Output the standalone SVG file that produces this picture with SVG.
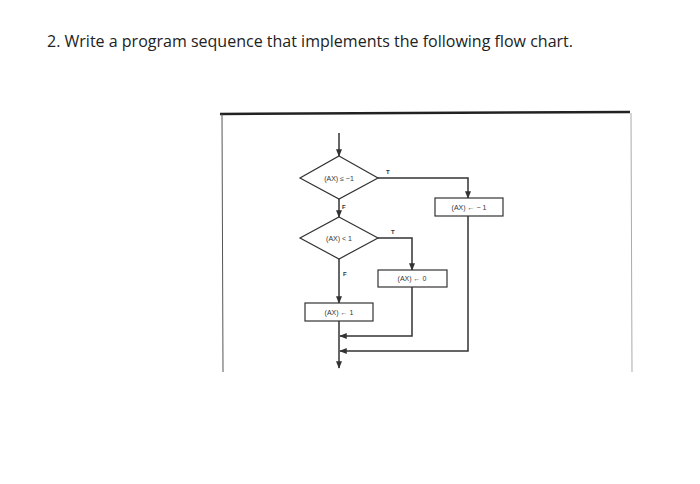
<svg xmlns="http://www.w3.org/2000/svg" width="700" height="484" viewBox="0 0 700 484">
<style>
.s{fill:none;stroke:#333;stroke-width:1.5}
.b{fill:#fff;stroke:#333;stroke-width:1.2}
.t{font-family:"Liberation Sans",Arial,sans-serif;font-size:7px;fill:#333}
.l{font-family:"Liberation Sans",Arial,sans-serif;font-size:6px;font-weight:bold;fill:#333}
</style>
<defs><marker id="a" viewBox="0 0 10 10" refX="9" refY="5" markerWidth="5" markerHeight="5" orient="auto"><path d="M0,1 L10,5 L0,9 Z" fill="#333"/></marker></defs>
<rect width="700" height="484" fill="#fff"/>
<text x="47" y="47" font-family="Open Sans,Liberation Sans,sans-serif" font-size="16" fill="#222" textLength="526" lengthAdjust="spacingAndGlyphs">2. Write a program sequence that implements the following flow chart.</text>
<g id="frame">
<line x1="220" y1="114" x2="630" y2="112" stroke="#222" stroke-width="2.5"/>
<line x1="222" y1="114" x2="223" y2="372" stroke="#555" stroke-width="1"/>
<line x1="631" y1="113" x2="632" y2="372" stroke="#aaa" stroke-width="1"/>
</g>
<g id="connectors">
<line class="s" x1="339" y1="133" x2="339" y2="156" marker-end="url(#a)"/>
<polyline class="s" points="378,178 468,178 468,198" marker-end="url(#a)"/>
<line class="s" x1="339" y1="199" x2="339" y2="217" marker-end="url(#a)"/>
<polyline class="s" points="378,238 412,238 412,270" marker-end="url(#a)"/>
<line class="s" x1="339" y1="259" x2="339" y2="303" marker-end="url(#a)"/>
<polyline class="s" points="412,287 412,336 340,336" marker-end="url(#a)"/>
<polyline class="s" points="468,216 468,351 340,351" marker-end="url(#a)"/>
<line class="s" x1="339" y1="321" x2="339" y2="368" marker-end="url(#a)"/>
<text class="l" x="386" y="174">T</text>
<text class="l" x="342" y="209">F</text>
<text class="l" x="391" y="234">T</text>
<text class="l" x="343" y="276">F</text>
</g>
<g id="d1"><polygon class="b" points="339,156 378,178 339,199 300,178"/><text class="t" x="339" y="180.5" text-anchor="middle">(AX) ≤ −1</text></g>
<g id="d2"><polygon class="b" points="339,217 378,238 339,259 300,238"/><text class="t" x="339" y="240.5" text-anchor="middle">(AX) &lt; 1</text></g>
<g id="b1"><rect class="b" x="435" y="198" width="68" height="18"/><text class="t" x="469" y="209.5" text-anchor="middle">(AX) ← − 1</text></g>
<g id="b2"><rect class="b" x="378" y="270" width="69" height="17"/><text class="t" x="412" y="281" text-anchor="middle">(AX) ← 0</text></g>
<g id="b3"><rect class="b" x="305" y="303" width="68" height="18"/><text class="t" x="339" y="314.5" text-anchor="middle">(AX) ← 1</text></g>
</svg>
